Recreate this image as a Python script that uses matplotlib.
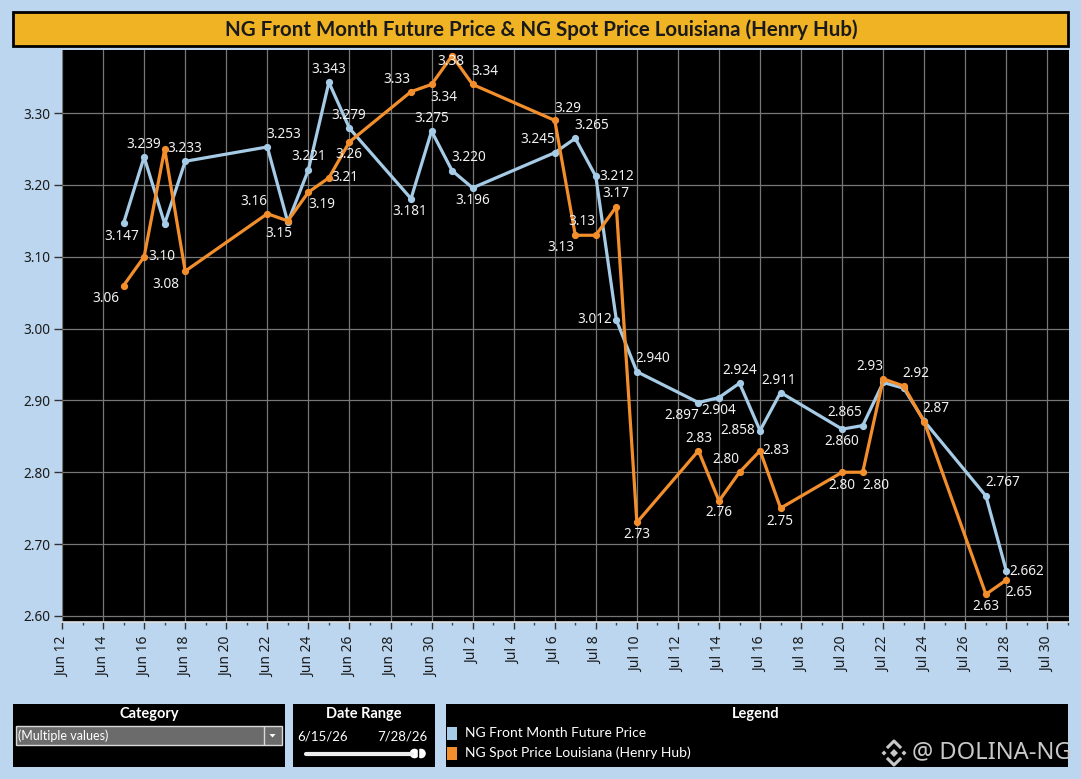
import datetime as dt
import matplotlib
matplotlib.use("Agg")
import matplotlib.pyplot as plt
import matplotlib.dates as mdates
from matplotlib.patches import Rectangle, Polygon, Circle
import matplotlib.ticker as mticker

# ---------------- data ----------------
date_strs = ["2026-06-15", "2026-06-16", "2026-06-17", "2026-06-18", "2026-06-22",
             "2026-06-23", "2026-06-24", "2026-06-25", "2026-06-26", "2026-06-29",
             "2026-06-30", "2026-07-01", "2026-07-02", "2026-07-06", "2026-07-07",
             "2026-07-08", "2026-07-09", "2026-07-10", "2026-07-13", "2026-07-14",
             "2026-07-15", "2026-07-16", "2026-07-17", "2026-07-20", "2026-07-21",
             "2026-07-22", "2026-07-23", "2026-07-24", "2026-07-27", "2026-07-28"]
future_price = [3.147, 3.239, 3.146, 3.233, 3.253, 3.148, 3.221, 3.343, 3.279, 3.181,
                3.275, 3.220, 3.196, 3.245, 3.265, 3.212, 3.012, 2.940, 2.897, 2.904,
                2.924, 2.858, 2.911, 2.860, 2.865, 2.925, 2.917, 2.871, 2.767, 2.662]
spot_price = [3.06, 3.10, 3.25, 3.08, 3.16, 3.15, 3.19, 3.21, 3.26, 3.33,
              3.34, 3.38, 3.34, 3.29, 3.13, 3.13, 3.17, 2.73, 2.83, 2.76,
              2.80, 2.83, 2.75, 2.80, 2.80, 2.93, 2.92, 2.87, 2.63, 2.65]
series_names = ["NG Front Month Future Price", "NG Spot Price Louisiana (Henry Hub)"]
title_text = "NG Front Month Future Price & NG Spot Price Louisiana (Henry Hub)"
y_ticks = [2.60, 2.70, 2.80, 2.90, 3.00, 3.10, 3.20, 3.30]
date_range_labels = ["6/15/26", "7/28/26"]
category_value = "(Multiple values)"

# label placement (screen pixel offsets: dx right, dy down); None = no label
future_label_off = [(-2, 13), (0, -12), None, (0, -13), (16, -12), None, (0, -13), (0, -13),
                    (-1, -13), (-1, 13), (0, -13), (17, -13), (0, 13), (-17, -13), (16, -13),
                    (21, 0), (-22, 0), (16, -13), (-17, 13), (0, 13), (0, -13), (-22, 0),
                    (-2, -12), (0, 12), (-18, -13), None, None, None, (17, -13), (20, 0)]
spot_label_off = [(-18, 13), (18, 0), None, (-19, 13), (-13, -12), (-9, 13), (13, 12), (16, 0),
                  (-1, 13), (-14, -12), (12, 13), (-1, 6), (12, -13), (13, -12), (-14, 12),
                  (-14, -14), (0, -13), (0, 12), (0, -12), (0, 12), (-14, -13), (16, 0),
                  (-1, 13), (0, 13), (13, 13), (-13, -12), (12, -13), (12, -13), (0, 12), (12, 13)]

dates = [dt.datetime.strptime(s, "%Y-%m-%d") for s in date_strs]

# ---------------- style ----------------
W, H = 1081, 779
BG = "#BCD6F0"
BLUE = "#A5CBE6"
ORANGE = "#F28E2B"
GOLD = "#F0B323"
UI = ["Lato", "DejaVu Sans"]

fig = plt.figure(figsize=(W / 100, H / 100), dpi=100, facecolor=BG)

# overlay axes in pixel coordinates for dashboard decorations
ov = fig.add_axes([0, 0, 1, 1], zorder=0)
ov.set_xlim(0, W)
ov.set_ylim(H, 0)
ov.axis("off")

# title bar
ov.add_patch(Rectangle((13, 12), 1055, 34, facecolor=GOLD, edgecolor="black", lw=2))
ov.text(541, 29.5, title_text, ha="center", va="center", fontsize=14.8,
        family=UI, fontweight="bold", color="#1a1a1a")

# bottom panels
for (x0, x1) in [(13, 285), (293, 435), (446, 1068)]:
    ov.add_patch(Rectangle((x0, 704), x1 - x0, 63, facecolor="black", edgecolor="none"))
for xc, txt in [(149, "Category"), (364, "Date Range"), (756, "Legend")]:
    ov.text(xc, 714, txt, ha="center", va="center", color="white", fontsize=10.5,
            family=UI, fontweight="bold")

# dropdown
ov.add_patch(Rectangle((16, 726), 266, 19, facecolor="#6b6b6b", edgecolor="#d8d8d8", lw=1))
ov.plot([263.5, 263.5], [727, 744], color="#d8d8d8", lw=1)
ov.add_patch(Polygon([(269.5, 734), (275.5, 734), (272.5, 737.5)], closed=True,
                     facecolor="white", edgecolor="none"))
ov.text(18, 736, category_value, ha="left", va="center", color="white", fontsize=9,
        family=UI)

# date range slider
ov.text(297, 736.5, date_range_labels[0], ha="left", va="center", color="white",
        fontsize=9.5, family=UI)
ov.text(428, 736.5, date_range_labels[1], ha="right", va="center", color="white",
        fontsize=9.5, family=UI)
ov.plot([306, 412], [753.5, 753.5], color="#eeeeee", lw=3, solid_capstyle="round")
ov.add_patch(Circle((414.5, 753.5), 4.8, facecolor="white", edgecolor="none"))
ov.add_patch(Circle((421, 753.5), 4.8, facecolor="white", edgecolor="none"))
ov.plot([417.8, 417.8], [748.5, 758.5], color="black", lw=1)

# legend entries
for yy, col, name in [(733, BLUE, series_names[0]), (753, ORANGE, series_names[1])]:
    ov.add_patch(Rectangle((447, yy - 6.5), 10, 13, facecolor=col, edgecolor="none"))
    ov.text(465, yy, name, ha="left", va="center", color="white", fontsize=10,
            family=UI)

# watermark with logo
wm = "#c9c9c9"
cx, cy = 894, 753
ov.add_patch(Polygon([(cx, cy - 4), (cx + 4, cy), (cx, cy + 4), (cx - 4, cy)],
                     closed=True, facecolor=wm, edgecolor="none"))
for sx in (-10, 10):
    ov.add_patch(Polygon([(cx + sx, cy - 2.5), (cx + sx + 2.5, cy), (cx + sx, cy + 2.5),
                          (cx + sx - 2.5, cy)], closed=True, facecolor=wm, edgecolor="none"))
ov.plot([cx - 6, cx, cx + 6], [cy - 6, cy - 12, cy - 6], color=wm, lw=2.2)
ov.plot([cx - 6, cx, cx + 6], [cy + 6, cy + 12, cy + 6], color=wm, lw=2.2)
ov.text(912, 752, "@ DOLINA-NG", ha="left", va="center", color=wm, fontsize=17.0,
        family=["Noto Sans", "DejaVu Sans"])

# ---------------- main chart ----------------
L, R, T, B = 61.7, 1069.3, 50, 622.3
ax = fig.add_axes([L / W, 1 - B / H, (R - L) / W, (B - T) / H], zorder=1)
ax.set_facecolor("black")

ax.plot(dates, future_price, color=BLUE, lw=2.3, marker="o", ms=4.2, zorder=3)
ax.plot(dates, spot_price, color=ORANGE, lw=2.3, marker="o", ms=4.2, zorder=4)

lab_font = ["Noto Sans", "DejaVu Sans"]
for d, v, off in zip(dates, future_price, future_label_off):
    if off is not None:
        ax.annotate(f"{v:.3f}", (d, v), xytext=(off[0], -off[1]), textcoords="offset pixels",
                    ha="center", va="center", color="#f2f2f2", fontsize=9.8,
                    family=lab_font, zorder=5)
for d, v, off in zip(dates, spot_price, spot_label_off):
    if off is not None:
        ax.annotate(f"{v:.2f}", (d, v), xytext=(off[0], -off[1]), textcoords="offset pixels",
                    ha="center", va="center", color="#f2f2f2", fontsize=9.8,
                    family=lab_font, zorder=5)

x0 = dt.datetime(2026, 6, 12) - dt.timedelta(days=0.015)
x1 = dt.datetime(2026, 7, 31, 1, 30)
ax.set_xlim(x0, x1)
ax.set_ylim(2.591, 3.388)

ax.set_yticks(y_ticks)
ax.yaxis.set_major_formatter(mticker.FormatStrFormatter("%.2f"))
ax.xaxis.set_major_locator(mdates.DayLocator(bymonthday=range(2, 32, 2)))
ax.xaxis.set_minor_locator(mdates.DayLocator())
ax.xaxis.set_major_formatter(mdates.DateFormatter("%b %-d"))

ax.grid(True, which="major", color="#777777", lw=0.9)
ax.set_axisbelow(True)
for s in ("top", "right", "left"):
    ax.spines[s].set_visible(False)
ax.spines["bottom"].set_color("#e0e0e0")
ax.spines["bottom"].set_linewidth(1.2)

ax.tick_params(axis="y", colors="#333333", labelcolor="#1a1a1a", labelsize=9.8, length=6,
               width=1, pad=2)
ax.tick_params(axis="x", which="major", colors="#333333", labelcolor="#1a1a1a",
               labelsize=10, length=5, width=1, labelrotation=90, pad=5)
ax.tick_params(axis="x", which="minor", colors="#444444", length=2, width=1)
for lbl in ax.get_xticklabels() + ax.get_yticklabels():
    lbl.set_family(["Noto Sans", "DejaVu Sans"])

fig.savefig("out.png", dpi=100, facecolor=BG)
